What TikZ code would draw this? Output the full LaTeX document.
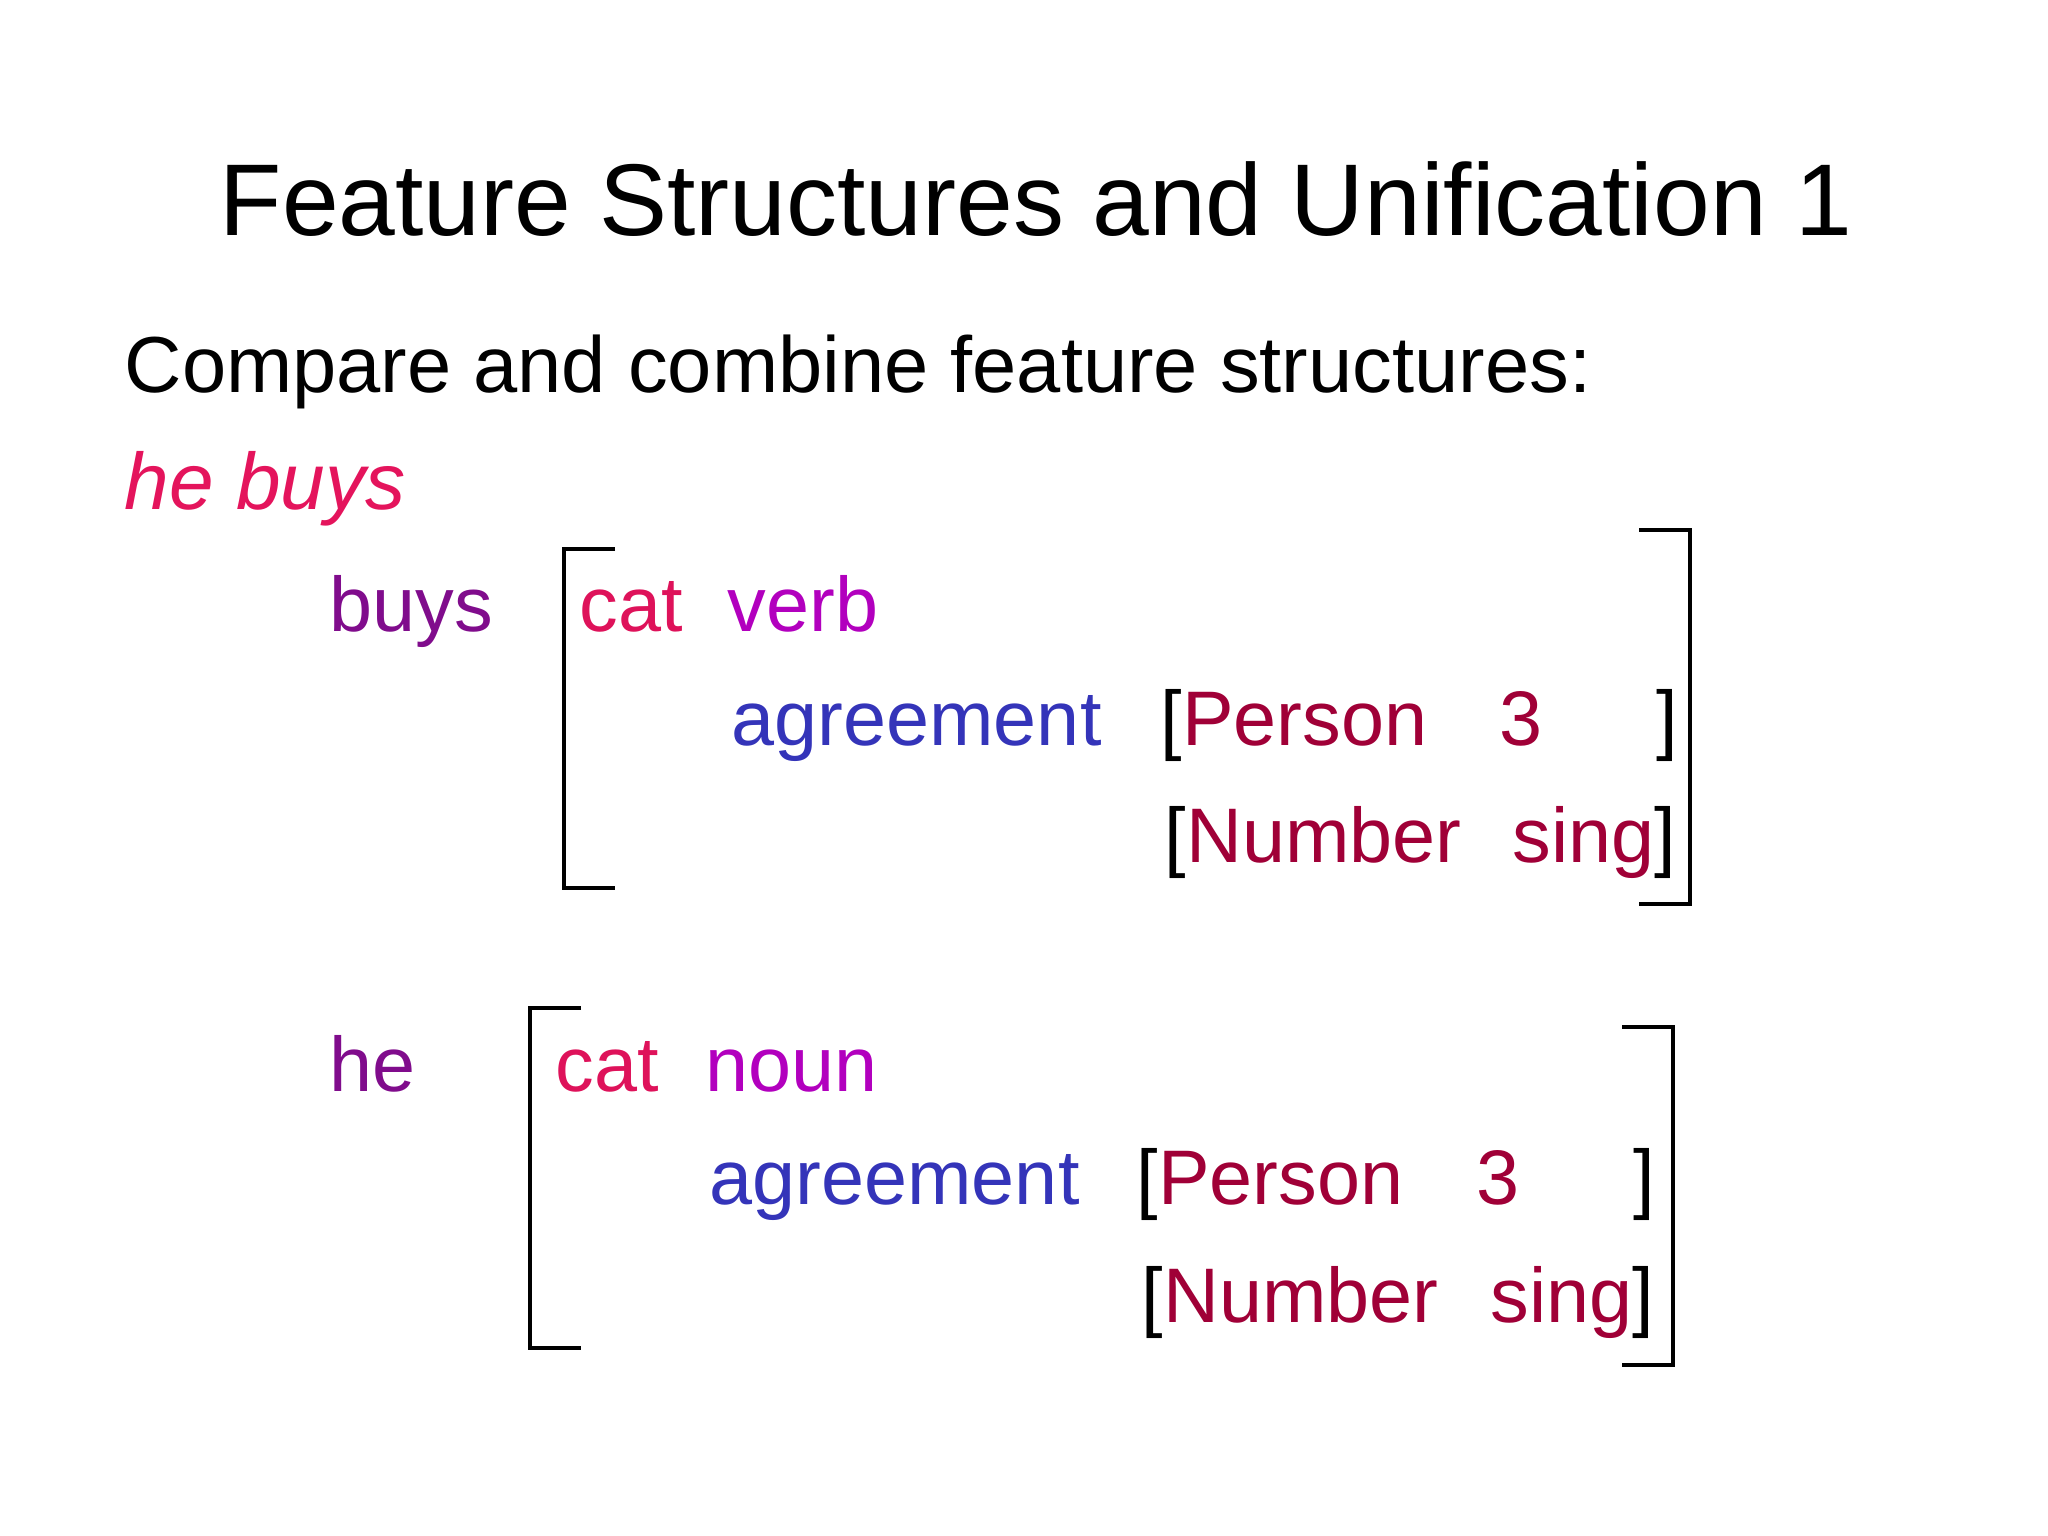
\documentclass[tikz,border=0pt]{standalone}
\usepackage{fontspec}
\setmainfont{Liberation Sans}
\definecolor{phrasecol}{RGB}{228,20,92}
\definecolor{wordcol}{RGB}{128,12,140}
\definecolor{catcol}{RGB}{222,18,90}
\definecolor{valcol}{RGB}{178,0,190}
\definecolor{agrcol}{RGB}{52,52,185}
\definecolor{featcol}{RGB}{160,0,55}
\begin{document}
\begin{tikzpicture}[x=0.01cm, y=-0.01cm,
  every node/.style = {inner sep=0pt, anchor=base west,
    font=\fontsize{22}{26}\selectfont},
  heading/.style = {anchor=base, font=\fontsize{29}{34}\selectfont},
  word/.style = {text=wordcol},
  catname/.style = {text=catcol},
  catval/.style = {text=valcol},
  agr/.style = {text=agrcol},
  feat/.style = {text=featcol},
  fsbracket/.style = {line width=0.9pt}]
  \useasboundingbox (0,0) rectangle (2048,1536);
  % heading
  \node[heading] (title) at (1036,235) {Feature Structures and Unification 1};
  \node[font=\fontsize{22.6}{26}\selectfont] (intro) at (124,392) {Compare and combine feature structures:};
  \node[text=phrasecol, font=\fontsize{22.8}{26}\selectfont\itshape] (phrase) at (124,509) {he buys};
  % buys
  \node[word] (buys) at (329,631) {buys};
  \node[catname] (cat1) at (579,631) {cat};
  \node[catval] (verb) at (727,631) {verb};
  \node[agr] (agr1) at (731,745) {agreement};
  \node[feat] (pers1) at (1160,745) {\textcolor{black}{[}Person};
  \node[feat] (three1) at (1499,745) {3};
  \node (rb1) at (1656,745) {]};
  \node[feat] (num1) at (1164,862) {\textcolor{black}{[}Number};
  \node[feat] (sing1) at (1512,862) {sing\textcolor{black}{]}};
  \draw[fsbracket] (615,549) -- (564,549) -- (564,888) -- (615,888);
  \draw[fsbracket] (1639,530) -- (1690,530) -- (1690,904) -- (1639,904);
  % he
  \node[word] (he) at (329,1091) {he};
  \node[catname] (cat2) at (555,1091) {cat};
  \node[catval] (noun) at (705,1091) {noun};
  \node[agr] (agr2) at (709,1204) {agreement};
  \node[feat] (pers2) at (1136,1204) {\textcolor{black}{[}Person};
  \node[feat] (three2) at (1476,1204) {3};
  \node (rb2) at (1633,1204) {]};
  \node[feat] (num2) at (1141,1322) {\textcolor{black}{[}Number};
  \node[feat] (sing2) at (1490,1322) {sing\textcolor{black}{]}};
  \draw[fsbracket] (581,1008) -- (530,1008) -- (530,1348) -- (581,1348);
  \draw[fsbracket] (1622,1027) -- (1673,1027) -- (1673,1365) -- (1622,1365);
\end{tikzpicture}
\end{document}
